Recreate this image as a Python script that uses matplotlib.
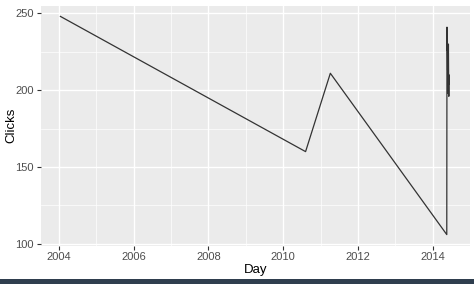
import matplotlib
matplotlib.use("Agg")
import matplotlib.pyplot as plt
import matplotlib.dates as mdates
from matplotlib.patches import Rectangle
import pandas as pd

plt.rcParams["font.family"] = ["Liberation Sans", "DejaVu Sans"]

# data
days = ["2004-01-16", "2010-08-08", "2011-04-07", "2014-05-19",
        "2014-05-20", "2014-05-21", "2014-05-22", "2014-05-23", "2014-05-24",
        "2014-05-25", "2014-05-27", "2014-05-28", "2014-05-29", "2014-05-30",
        "2014-05-31", "2014-06-01", "2014-06-02", "2014-06-04", "2014-06-06",
        "2014-06-08", "2014-06-09", "2014-06-10"]
clicks = [248, 160, 211, 106,
          175, 241, 226, 234, 228, 232, 213, 225, 205, 219,
          198, 214, 205, 230, 208, 196, 210, 204]

day_ticks = ["2004", "2006", "2008", "2010", "2012", "2014"]
click_ticks = [100, 150, 200, 250]

df = pd.DataFrame({"Day": pd.to_datetime(days), "Clicks": clicks})

fig = plt.figure(figsize=(4.74, 2.84), dpi=100)
ax = fig.add_axes([41 / 474, 38.5 / 284, 429 / 474, 240 / 284])
ax.set_facecolor("#EBEBEB")

ax.plot(df["Day"], df["Clicks"], color="#333333", linewidth=0.9)

# ggplot style 5% expansion
x0, x1 = mdates.date2num(df["Day"].min()), mdates.date2num(df["Day"].max())
pad = (x1 - x0) * 0.05
ax.set_xlim(x0 - pad, x1 + pad)
lo, hi = min(clicks), max(clicks)
ax.set_ylim(lo - (hi - lo) * 0.05, hi + (hi - lo) * 0.05)

ax.set_xticks(mdates.date2num(pd.to_datetime([y + "-01-01" for y in day_ticks])))
ax.set_xticklabels(day_ticks)
ax.set_xticks(mdates.date2num(pd.to_datetime([str(int(y) + 1) + "-01-01" for y in day_ticks])), minor=True)
ax.set_yticks(click_ticks)
ax.set_yticks([125, 175, 225], minor=True)

ax.grid(which="major", color="white", linewidth=1.0)
ax.grid(which="minor", color="white", linewidth=0.5)
ax.set_axisbelow(True)
for s in ax.spines.values():
    s.set_visible(False)

ax.tick_params(which="major", length=3, width=0.8, color="#333333",
               labelsize=8, labelcolor="#4D4D4D", pad=2)
ax.tick_params(which="minor", length=0)

ax.set_xlabel("Day", fontsize=9.5, color="black", labelpad=1)
ax.set_ylabel("Clicks", fontsize=9.5, color="black", va="center")
ax.yaxis.set_label_coords(-30 / 429, 0.5)

# dark strip along the bottom of the screenshot
fig.patches.append(Rectangle((0, 0), 1, 5 / 284, transform=fig.transFigure,
                             facecolor="#2F3E4E", edgecolor="none"))

fig.savefig("out.png", dpi=100)
